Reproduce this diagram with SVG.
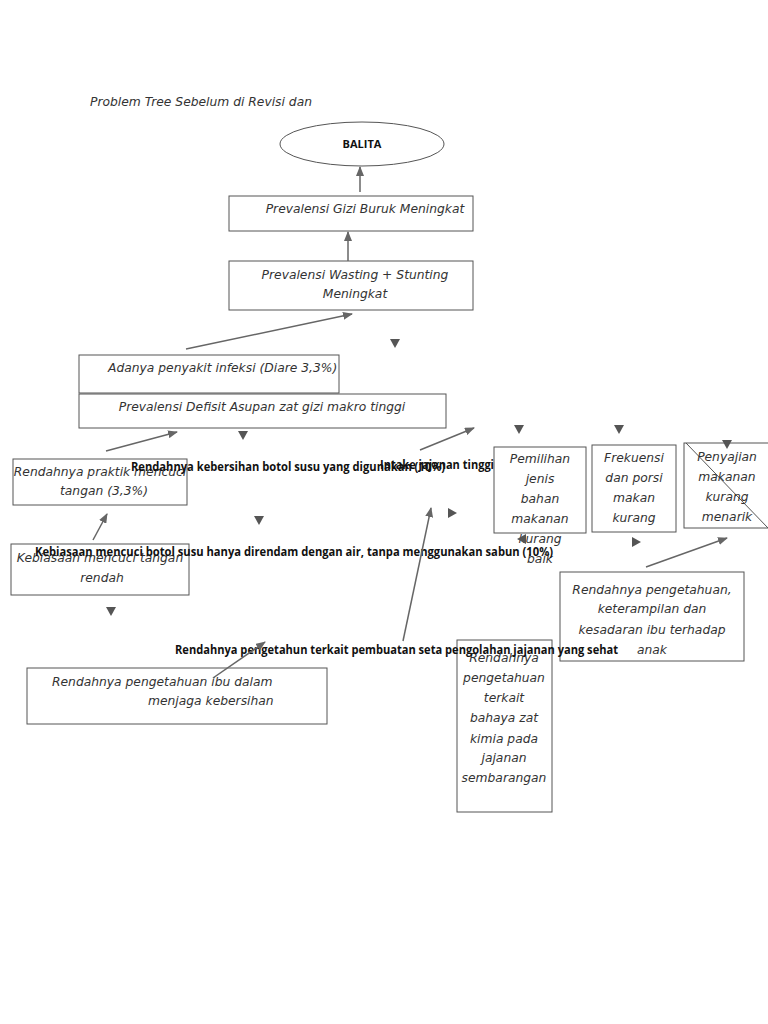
<svg xmlns="http://www.w3.org/2000/svg" width="768" height="1024" viewBox="0 0 768 1024">
<style>
.b{fill:#fff;stroke:#555;stroke-width:1}
.t{font-family:"DejaVu Sans",sans-serif;font-style:italic;font-size:12.3px;fill:#333}
.c{text-anchor:middle}
.k{font-family:"Open Sans",sans-serif;font-weight:bold;font-size:11.5px;fill:#111}
.l{stroke:#666;stroke-width:1.5;fill:none;marker-end:url(#a)}
.tri{fill:#555}
</style>
<defs><marker id="a" markerWidth="10" markerHeight="8" refX="9" refY="4" orient="auto" markerUnits="userSpaceOnUse"><path d="M0,0L10,4L0,8z" fill="#666"/></marker></defs>
<rect width="768" height="1024" fill="#fff"/>
<text class="t" x="90" y="106" font-size="12.5">Problem Tree Sebelum di Revisi dan</text>
<g id="balita"><ellipse class="b" cx="362" cy="144" rx="82" ry="22"/><text x="362" y="148" class="c" font-family="Open Sans, sans-serif" font-weight="bold" font-size="11" fill="#111">BALITA</text></g>
<g id="gizi"><rect class="b" x="229" y="196" width="244" height="35"/><text class="t c" x="365" y="213">Prevalensi Gizi Buruk Meningkat</text></g>
<g id="wasting"><rect class="b" x="229" y="261" width="244" height="49"/><text class="t c" x="355" y="279">Prevalensi Wasting + Stunting</text><text class="t c" x="355" y="298">Meningkat</text></g>
<g id="infeksi"><rect class="b" x="79" y="355" width="260" height="38"/><text class="t" x="108" y="372">Adanya penyakit infeksi (Diare 3,3%)</text></g>
<g id="defisit"><rect class="b" x="79" y="394" width="367" height="34"/><text class="t c" x="262" y="411">Prevalensi Defisit Asupan zat gizi makro tinggi</text></g>
<g id="praktik"><rect class="b" x="13" y="459" width="174" height="46"/><text class="t c" x="100" y="476">Rendahnya praktik mencuci</text><text class="t c" x="104" y="495">tangan (3,3%)</text></g>
<g id="kebiasaan"><rect class="b" x="11" y="544" width="178" height="51"/><text class="t c" x="100" y="562">Kebiasaan mencuci tangan</text><text class="t c" x="102" y="582">rendah</text></g>
<g id="ibu"><rect class="b" x="27" y="668" width="300" height="56"/><text class="t" x="52" y="686">Rendahnya pengetahuan ibu dalam</text><text class="t" x="148" y="705">menjaga kebersihan</text></g>
<g id="pemilihan"><rect class="b" x="494" y="447" width="92" height="86"/><text class="t c" x="540" y="463">Pemilihan</text><text class="t c" x="540" y="483">jenis</text><text class="t c" x="540" y="503">bahan</text><text class="t c" x="540" y="523">makanan</text><text class="t c" x="540" y="543">kurang</text><text class="t c" x="540" y="563">baik</text></g>
<g id="frekuensi"><rect class="b" x="592" y="445" width="84" height="87"/><text class="t c" x="634" y="462">Frekuensi</text><text class="t c" x="634" y="482">dan porsi</text><text class="t c" x="634" y="502">makan</text><text class="t c" x="634" y="522">kurang</text></g>
<g id="penyajian"><rect class="b" x="684" y="443" width="90" height="85"/><line x1="686" y1="443" x2="768" y2="528" stroke="#555"/><text class="t c" x="727" y="461">Penyajian</text><text class="t c" x="727" y="481">makanan</text><text class="t c" x="727" y="501">kurang</text><text class="t c" x="727" y="521">menarik</text></g>
<g id="keterampilan"><rect class="b" x="560" y="572" width="184" height="89"/><text class="t c" x="652" y="594">Rendahnya pengetahuan,</text><text class="t c" x="652" y="613">keterampilan dan</text><text class="t c" x="652" y="634">kesadaran ibu terhadap</text><text class="t c" x="652" y="654">anak</text></g>
<g id="bahaya"><rect class="b" x="457" y="640" width="95" height="172"/><text class="t c" x="504" y="662">Rendahnya</text><text class="t c" x="504" y="682">pengetahuan</text><text class="t c" x="504" y="702">terkait</text><text class="t c" x="504" y="722">bahaya zat</text><text class="t c" x="504" y="743">kimia pada</text><text class="t c" x="504" y="762">jajanan</text><text class="t c" x="504" y="782">sembarangan</text></g>
<g id="labels">
<text class="k" x="131" y="471" textLength="314" lengthAdjust="spacingAndGlyphs">Rendahnya kebersihan botol susu yang digunakan (10%)</text>
<text class="k" x="380" y="469" textLength="114" lengthAdjust="spacingAndGlyphs">Intake jajanan tinggi</text>
<text class="k" x="35" y="556" textLength="518" lengthAdjust="spacingAndGlyphs">Kebiasaan mencuci botol susu hanya direndam dengan air, tanpa menggunakan sabun (10%)</text>
<text class="k" x="175" y="654" textLength="443" lengthAdjust="spacingAndGlyphs">Rendahnya pengetahun terkait pembuatan seta pengolahan jajanan yang sehat</text>
</g>
<g id="connectors">
<line class="l" x1="360" y1="192" x2="360" y2="167"/>
<line class="l" x1="348" y1="261" x2="348" y2="232" stroke-width="3"/>
<line class="l" x1="186" y1="349" x2="352" y2="314"/>
<line class="l" x1="106" y1="451" x2="177" y2="432"/>
<line class="l" x1="420" y1="450" x2="474" y2="428"/>
<line class="l" x1="93" y1="540" x2="107" y2="514"/>
<line class="l" x1="403" y1="641" x2="431" y2="508"/>
<line class="l" x1="646" y1="567" x2="727" y2="538"/>
<line class="l" x1="213" y1="678" x2="265" y2="642"/>
<path class="tri" d="M390,339h10l-5,9z"/>
<path class="tri" d="M238,431h10l-5,9z"/>
<path class="tri" d="M514,425h10l-5,9z"/>
<path class="tri" d="M614,425h10l-5,9z"/>
<path class="tri" d="M722,440h10l-5,9z"/>
<path class="tri" d="M254,516h10l-5,9z"/>
<path class="tri" d="M106,607h10l-5,9z"/>
<path class="tri" d="M448,508v10l9,-5z"/>
<path class="tri" d="M632,537v10l9,-5z"/>
<path class="tri" d="M526,534v10l-9,-5z"/>
</g>
</svg>
